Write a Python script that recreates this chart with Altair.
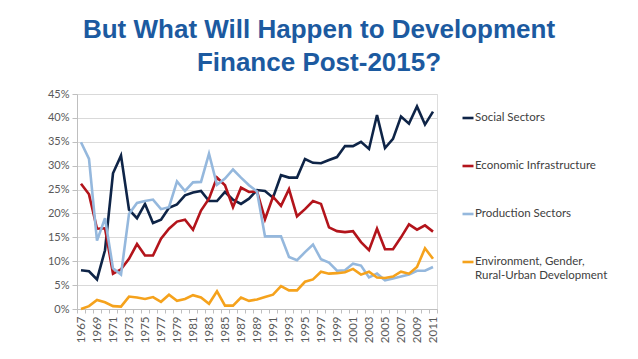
import altair as alt
import pandas as pd

years = list(range(1967, 2012))

social = [8.1, 7.9, 6.2, 12.3, 28.4, 32.1, 20.8, 19.0, 22.0, 18.0, 18.7, 21.2, 21.9, 23.8, 24.4,
          24.7, 22.6, 22.6, 24.5, 22.9, 22.0, 23.1, 24.9, 24.7, 23.3, 28.0, 27.5, 27.5, 31.4, 30.6,
          30.5, 31.2, 31.8, 34.1, 34.1, 35.0, 33.5, 40.6, 33.7, 35.6, 40.3, 38.8, 42.4, 38.6, 41.3]

economic = [26.2, 24.0, 16.8, 16.9, 7.4, 8.3, 10.5, 13.6, 11.2, 11.2, 14.7, 16.8, 18.3, 18.7, 16.6,
            20.6, 23.1, 27.5, 25.9, 21.3, 25.4, 24.5, 24.6, 18.8, 23.5, 21.6, 25.1, 19.4, 20.9, 22.6,
            22.0, 17.1, 16.3, 16.1, 16.3, 14.0, 12.3, 16.8, 12.5, 12.5, 15.0, 17.7, 16.6, 17.5, 16.2]

production = [34.9, 31.4, 14.3, 19.0, 8.5, 7.2, 19.9, 22.2, 22.6, 22.9, 20.9, 21.3, 26.7, 24.7, 26.5,
              26.6, 32.5, 26.0, 27.3, 29.2, 27.5, 25.9, 24.6, 15.2, 15.2, 15.2, 10.9, 10.2, 11.9, 13.5,
              10.4, 9.7, 8.0, 8.1, 9.5, 9.1, 6.6, 7.4, 6.0, 6.4, 6.8, 7.2, 8.0, 8.0, 8.8]

environment = [0.0, 0.6, 1.9, 1.4, 0.6, 0.5, 2.6, 2.4, 2.1, 2.5, 1.5, 3.0, 1.7, 2.1, 2.9,
               2.4, 1.1, 3.7, 0.7, 0.7, 2.4, 1.7, 2.0, 2.5, 3.0, 4.8, 3.9, 3.9, 5.7, 6.2,
               7.8, 7.4, 7.5, 7.7, 8.4, 7.2, 7.8, 6.6, 6.5, 6.8, 7.8, 7.4, 8.8, 12.7, 10.5]

series_names = ["Social Sectors", "Economic Infrastructure", "Production Sectors",
                "Environment, Gender, Rural-Urban Development"]
series_colors = ["#0e2447", "#b3141b", "#95b8dd", "#f5a21c"]
y_ticks = [0, 0.05, 0.10, 0.15, 0.20, 0.25, 0.30, 0.35, 0.40, 0.45]

rows = []
for name, vals in zip(series_names, [social, economic, production, environment]):
    for yr, v in zip(years, vals):
        rows.append({"year": yr, "value": v / 100.0, "series": name})
df = pd.DataFrame(rows)

label_font = "Lato"

chart = alt.Chart(df).mark_line(strokeWidth=2.6).encode(
    x=alt.X("year:O",
            scale=alt.Scale(type="band", paddingInner=0, paddingOuter=0),
            axis=alt.Axis(title=None, labelAngle=-90, labelFontSize=11.5, labelColor="#595959",
                          labelFont=label_font, tickBand="extent", tickColor="#bfbfbf",
                          tickSize=4, domainColor="#bfbfbf", grid=False, labelOverlap=False,
                          labelPadding=3,
                          labelExpr="datum.value % 2 == 1 ? datum.label : ''")),
    y=alt.Y("value:Q",
            scale=alt.Scale(domain=[0, 0.45], nice=False),
            axis=alt.Axis(title=None, values=y_ticks, format=".0%", labelFontSize=11,
                          labelColor="#595959", labelFont=label_font, tickColor="#bfbfbf",
                          tickSize=5, domainColor="#bfbfbf", gridColor="#d9d9d9",
                          labelPadding=3)),
    color=alt.Color("series:N",
                    scale=alt.Scale(domain=series_names, range=series_colors),
                    legend=alt.Legend(title=None, orient="none", legendX=384, legendY=17,
                                      symbolType="stroke", symbolSize=121, symbolStrokeWidth=2.6,
                                      labelFont=label_font, labelFontSize=11.5,
                                      labelColor="#404040", labelLimit=300, rowPadding=35,
                                      labelOffset=0,
                                      labelExpr="datum.label == 'Environment, Gender, Rural-Urban Development' ? ['Environment, Gender,', 'Rural-Urban Development'] : datum.label")),
).properties(
    width=360,
    height=215,
    title=alt.TitleParams(text=["But What Will Happen to Development", "Finance Post-2015?"],
                          font="Liberation Sans", fontSize=26, fontWeight="bold",
                          color="#1c5aa0", anchor="middle", dx=62, lineHeight=33,
                          offset=12),
    autosize=alt.AutoSizeParams(type="none"),
    padding={"left": 69, "top": 86, "right": 193, "bottom": 42},
).configure_view(stroke=None).configure(background="white")

chart.save("out.html", embed_options={"renderer": "svg", "actions": False})
